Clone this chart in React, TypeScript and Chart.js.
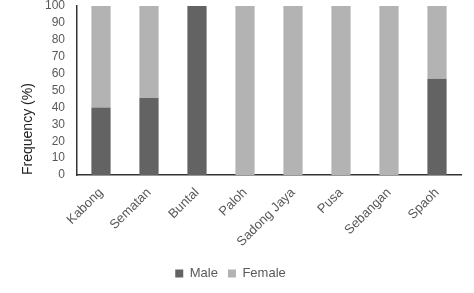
import React, { useEffect, useRef } from "react";
import { Chart, registerables } from "chart.js";

Chart.register(...registerables);

const categories = ["Kabong", "Sematan", "Buntal", "Paloh", "Sadong Jaya", "Pusa", "Sebangan", "Spaoh"];
const maleValues = [40, 45.5, 100, 0, 0, 0, 0, 57];
const femaleValues = [60, 54.5, 0, 100, 100, 100, 100, 43];
const yTicks = [0, 10, 20, 30, 40, 50, 60, 70, 80, 90, 100];

const FONT = "'Liberation Sans', Arial, sans-serif";
const TEXT = "#595959";

export default function App() {
  const ref = useRef<HTMLCanvasElement | null>(null);
  useEffect(() => {
    document.body.style.margin = "0";
    const ctx = ref.current!;
    const chart = new Chart(ctx, {
      type: "bar",
      data: {
        labels: categories,
        datasets: [
          { label: "Male", data: maleValues, backgroundColor: "#636363", barPercentage: 0.4, categoryPercentage: 1 },
          { label: "Female", data: femaleValues, backgroundColor: "#b3b3b3", barPercentage: 0.4, categoryPercentage: 1 },
        ],
      },
      options: {
        animation: false,
        responsive: false,
        maintainAspectRatio: false,
        layout: { padding: { left: 0, top: 6, right: 13, bottom: 3 } },
        plugins: {
          tooltip: { enabled: false },
          legend: {
            position: "bottom",
            labels: {
              boxWidth: 8,
              boxHeight: 8,
              padding: 10,
              color: TEXT,
              font: { family: FONT, size: 13 },
            },
          },
        },
        scales: {
          x: {
            stacked: true,
            grid: { display: false },
            border: { display: true, color: "#333333", width: 1.5 },
            ticks: {
              minRotation: 45,
              maxRotation: 45,
              autoSkip: false,
              color: TEXT,
              padding: 2,
              font: { family: FONT, size: 13 },
            },
            afterFit: (s: any) => {
              s.height = 82;
              s.paddingLeft = 0;
              s.paddingRight = 0;
            },
          },
          y: {
            stacked: true,
            min: 0,
            max: 100,
            afterBuildTicks: (s: any) => {
              s.ticks = yTicks.map((v) => ({ value: v }));
            },
            grid: { display: false },
            border: { display: true, color: "#333333", width: 1.5 },
            ticks: {
              autoSkip: false,
              color: TEXT,
              padding: 4,
              font: { family: FONT, size: 12 },
            },
            title: {
              display: true,
              text: "Frequency (%)",
              align: "start",
              color: "#222222",
              padding: { top: 20, bottom: 0 },
              font: { family: FONT, size: 14 },
            },
            afterFit: (s: any) => {
              s.width = 77;
              s.paddingTop = 0;
              s.paddingBottom = 0;
            },
          },
        },
      },
    });
    return () => chart.destroy();
  }, []);
  return (
    <div style={{ position: "absolute", left: 0, top: 0, width: 474, height: 293 }}>
      <canvas ref={ref} width={474} height={293} style={{ width: 474, height: 293 }} />
    </div>
  );
}
